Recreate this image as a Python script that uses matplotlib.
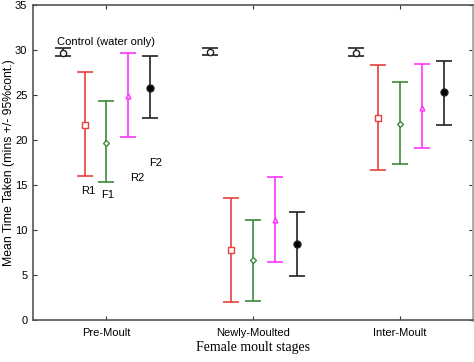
import matplotlib
matplotlib.use('Agg')
import matplotlib.pyplot as plt
import numpy as np

plt.rcParams['font.family'] = ['Liberation Sans', 'DejaVu Sans']

stages = ['Pre-Moult', 'Newly-Moulted', 'Inter-Moult']

# mean and 95% limits per treatment, one value per stage
control_mean = [29.7, 29.75, 29.7]
control_low = [29.3, 29.4, 29.35]
control_high = [30.2, 30.2, 30.25]

r1_mean = [21.7, 7.8, 22.4]
r1_low = [16.0, 2.0, 16.7]
r1_high = [27.6, 13.6, 28.3]

f1_mean = [19.7, 6.7, 21.8]
f1_low = [15.3, 2.1, 17.3]
f1_high = [24.3, 11.1, 26.4]

r2_mean = [24.9, 11.1, 23.6]
r2_low = [20.3, 6.5, 19.1]
r2_high = [29.7, 15.9, 28.5]

f2_mean = [25.8, 8.4, 25.3]
f2_low = [22.4, 4.9, 21.7]
f2_high = [29.3, 12.0, 28.8]

fig = plt.figure(figsize=(4.74, 3.62), dpi=100)
ax = fig.add_axes([0.0696, 0.116, 0.928, 0.870])

x = np.arange(len(stages))
series = [
  (control_mean, control_low, control_high, -0.295, 'o', '#222222', 'white', 4.5),
  (r1_mean, r1_low, r1_high, -0.148, 's', '#e8403c', 'white', 4.5),
  (f1_mean, f1_low, f1_high, 0.0, 'D', '#3a8a3a', 'white', 3),
  (r2_mean, r2_low, r2_high, 0.15, '^', '#ff33ff', '#ffc0ff', 3.5),
  (f2_mean, f2_low, f2_high, 0.3, 'o', '#222222', '#000000', 5),
]
for mean, low, high, off, mk, col, face, ms in series:
  mean = np.array(mean)
  err = [mean - np.array(low), np.array(high) - mean]
  ax.errorbar(x + off, mean, yerr=err, fmt=mk, color=col, ecolor=col,
              markerfacecolor=face, markeredgecolor=col, markersize=ms,
              capsize=6, elinewidth=1.2, capthick=1.2)

ax.set_xlim(-0.5, 2.5)
ax.set_ylim(0, 35)
ax.set_xticks(x)
ax.set_xticklabels(stages)
ax.set_yticks(np.arange(0, 36, 5))
ax.tick_params(direction='in', top=True, right=True, labelsize=8, length=3, color='#333333')
ax.tick_params(axis='y', pad=4)
ax.tick_params(axis='x', pad=6)
for s in ['left', 'bottom', 'top']:
  ax.spines[s].set_color('#555555')
  ax.spines[s].set_linewidth(1.2)
ax.spines['right'].set_color('#aaaaaa')
ax.spines['right'].set_linewidth(2)

ax.set_ylabel('Mean Time Taken (mins +/- 95%cont.)', fontsize=8.8, labelpad=0)
ax.set_xlabel('Female moult stages', fontsize=10, family='Liberation Serif', labelpad=2)

ax.text(-0.335, 30.9, 'Control (water only)', fontsize=8, va='center')
ax.text(-0.122, 14.3, 'R1', fontsize=8, ha='center', va='center')
ax.text(0.007, 13.9, 'F1', fontsize=8, ha='center', va='center')
ax.text(0.21, 15.8, 'R2', fontsize=8, ha='center', va='center')
ax.text(0.333, 17.4, 'F2', fontsize=8, ha='center', va='center')

fig.savefig('out.png', dpi=100)
